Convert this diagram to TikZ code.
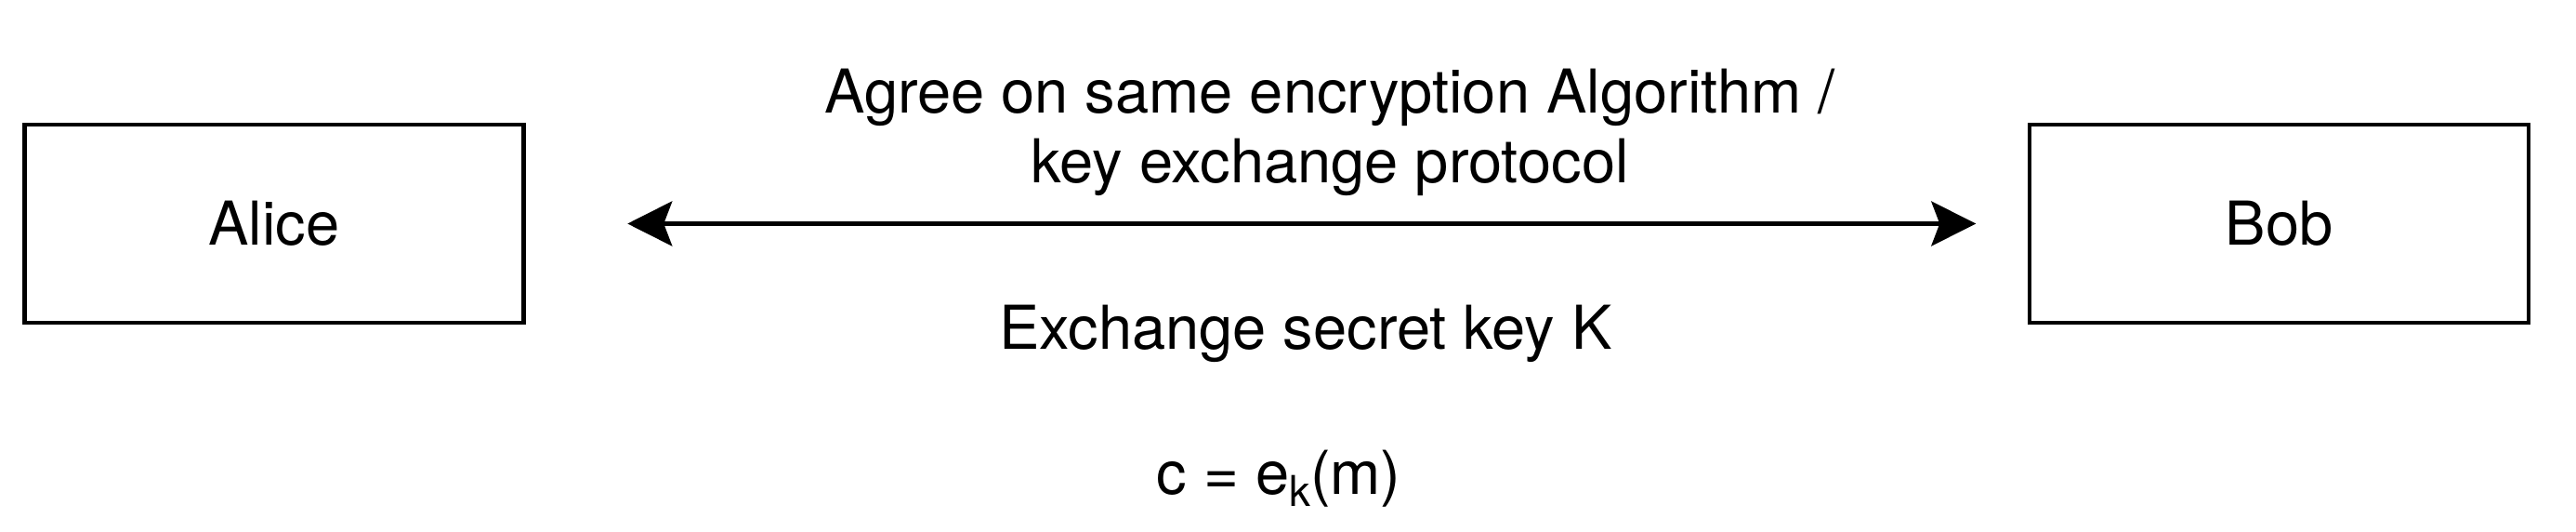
\documentclass[tikz,border=0pt]{standalone}
\usepackage{fontspec}
\setmainfont{TeX Gyre Heros}
\usetikzlibrary{arrows.meta}

\begin{document}
\begin{tikzpicture}[
	party/.style={draw,rectangle,line width=0.045cm,minimum width=5.37cm,minimum height=2.13cm,inner sep=0pt,font=\fontsize{18.5}{21.5}\selectfont},
	note/.style={inner sep=0pt,align=center,font=\fontsize{18.5}{21.5}\selectfont},
	link/.style={line width=0.045cm,{Stealth[length=0.48cm,width=0.48cm,inset=0.09cm]}-{Stealth[length=0.48cm,width=0.48cm,inset=0.09cm]}}
	]
	\useasboundingbox (0,0) rectangle (27.72,-5.72);

        \coordinate (a) at (2.95,-2.405);
        \coordinate (b) at (24.525,-2.405);
        \coordinate (t) at (14.31,-1.97);
        \coordinate (k) at (14.05,-3.75);
        \coordinate (e) at (13.76,-5.31);

        \node[party] (Alice) at (a) {Alice};
        \node[party] (Bob) at (b) {Bob};

        \node[note,anchor=base] (Agree) at (t) {Agree on same encryption Algorithm /\\key exchange protocol};
        \node[note,anchor=base] (Secret) at (k) {Exchange secret key K};
        \node[note,anchor=base] (Cipher) at (e) {c = e\raisebox{-0.21em}{\fontsize{13}{13}\selectfont k}(m)};

        \draw[link,shorten <=1.095cm,shorten >=0.555cm] (Alice) -- (Bob);
    \end{tikzpicture}
\end{document}
